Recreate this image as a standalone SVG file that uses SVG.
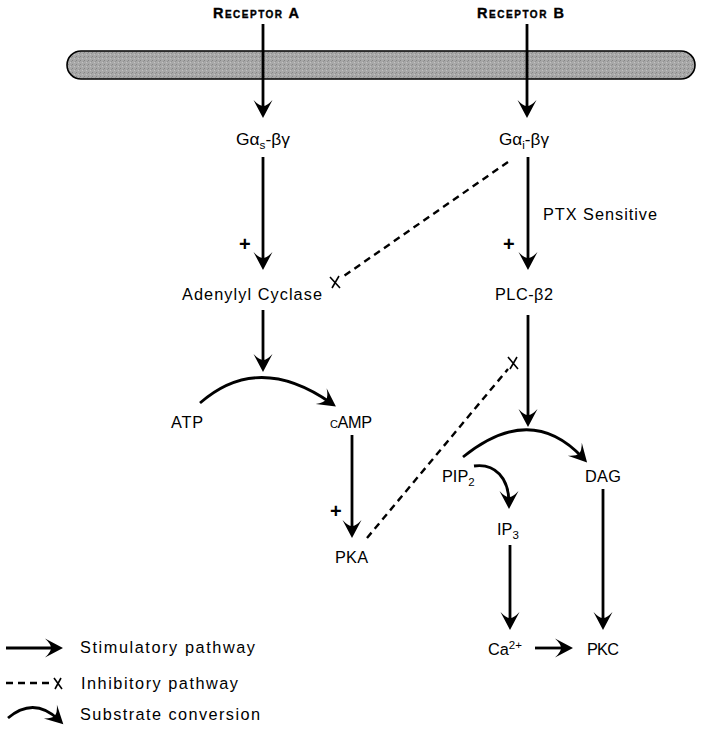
<svg xmlns="http://www.w3.org/2000/svg" width="701" height="731" viewBox="0 0 701 731">
<style>
text{font-family:"Liberation Sans",Arial,sans-serif;font-size:16.3px;fill:#000}
.rc{font-weight:bold;font-size:14.5px;font-variant:small-caps;stroke:#000;stroke-width:0.35}
.pl{font-weight:bold;font-size:20px}
.ln{fill:none;stroke:#000;stroke-width:2.8}
.ar{marker-end:url(#ah)}
.ds{fill:none;stroke:#000;stroke-width:2.4;stroke-dasharray:7 5}
.xm{stroke:#000;stroke-width:1.6;fill:none}
</style>
<defs>
<marker id="ah" markerUnits="userSpaceOnUse" markerWidth="24" markerHeight="24" refX="12" refY="10" orient="auto" overflow="visible">
<path d="M18,10 L0,0.5 Q6,6 6,10 Q6,14 0,19.5 Z" fill="#000"/>
</marker>
<pattern id="tx" width="4" height="4" patternUnits="userSpaceOnUse">
<rect width="4" height="4" fill="#a8a8a8"/>
<rect x="0" y="0" width="1" height="1" fill="#858585"/>
<rect x="2" y="2" width="1" height="1" fill="#c2c2c2"/>
<rect x="3" y="1" width="1" height="1" fill="#929292"/>
</pattern>
</defs>

<g id="membrane"><rect x="67" y="51" width="628" height="28" rx="14" fill="url(#tx)" stroke="#000" stroke-width="1.6"/></g>

<g id="receptorA"><text class="rc" x="213" y="18" textLength="86" lengthAdjust="spacing">Receptor A</text></g>
<g id="receptorB"><text class="rc" x="477" y="18" textLength="87" lengthAdjust="spacing">Receptor B</text></g>

<g id="gas"><text x="236" y="145" textLength="54" lengthAdjust="spacingAndGlyphs">Gα<tspan font-size="11" dy="4">s</tspan><tspan dy="-4">-βγ</tspan></text></g>
<g id="gai"><text x="499" y="145" textLength="50" lengthAdjust="spacingAndGlyphs">Gα<tspan font-size="11" dy="4">i</tspan><tspan dy="-4">-βγ</tspan></text></g>
<g id="ptx"><text x="543" y="220" textLength="114" lengthAdjust="spacing">PTX Sensitive</text></g>
<g id="ac"><text x="182" y="300" textLength="140" lengthAdjust="spacing">Adenylyl Cyclase</text></g>
<g id="plc"><text x="495" y="300" textLength="58" lengthAdjust="spacing">PLC-β2</text></g>
<g id="atp"><text x="171" y="428" textLength="32" lengthAdjust="spacing">ATP</text></g>
<g id="camp"><text x="330" y="428" style="font-variant:small-caps" textLength="42" lengthAdjust="spacing">cAMP</text></g>
<g id="pka"><text x="335" y="563" textLength="33" lengthAdjust="spacing">PKA</text></g>
<g id="pip2"><text x="442" y="482">PIP<tspan font-size="11.5" dy="4">2</tspan></text></g>
<g id="dag"><text x="585" y="482" textLength="36" lengthAdjust="spacing">DAG</text></g>
<g id="ip3"><text x="497" y="535">IP<tspan font-size="11.5" dy="4">3</tspan></text></g>
<g id="ca"><text x="488" y="655">Ca<tspan font-size="11.5" dy="-6">2+</tspan></text></g>
<g id="pkc"><text x="587" y="655" textLength="32" lengthAdjust="spacing">PKC</text></g>

<g id="signs">
<text class="pl" x="239" y="251">+</text>
<text class="pl" x="503" y="251">+</text>
<text class="pl" x="330" y="518">+</text>
</g>

<g id="connectors">
<path class="ln ar" d="M263,24 V112"/>
<path class="ln ar" d="M527,24 V112"/>
<path class="ln ar" d="M263,157 V264"/>
<path class="ln ar" d="M528,157 V264"/>
<path class="ln ar" d="M263,310 V366"/>
<path class="ln ar" d="M528,315 V421"/>
<path class="ln ar" d="M352,435 V532"/>
<path class="ln ar" d="M510,545 V624"/>
<path class="ln ar" d="M603,489 V624"/>
<path class="ln ar" d="M535,648 H567"/>
<path class="ln ar" d="M200,403 Q258,352 331,403"/>
<path class="ln ar" d="M463,457 Q531,402 583,458"/>
<path class="ln ar" d="M474,466 C495,463 509,478 509,503"/>
<path class="ds" d="M508,162 L341,278"/>
<path class="ds" d="M367,538 L508,369"/>
<path class="xm" d="M330,277 L340,288 M332,288 L339,276"/>
<path class="xm" d="M508,357 L518,369 M510,369 L517,357"/>
</g>

<g id="legend">
<path class="ln ar" d="M6,648 H57"/>
<text x="80" y="653" textLength="175" lengthAdjust="spacing">Stimulatory pathway</text>
<path class="ds" d="M6,683 H50"/>
<path class="xm" d="M54,678 L62,689 M55,689 L61,678"/>
<text x="81" y="689" textLength="157" lengthAdjust="spacing">Inhibitory pathway</text>
<path class="ln ar" d="M8,718 Q34,696 59,720"/>
<text x="80" y="720" textLength="180" lengthAdjust="spacing">Substrate conversion</text>
</g>
</svg>
